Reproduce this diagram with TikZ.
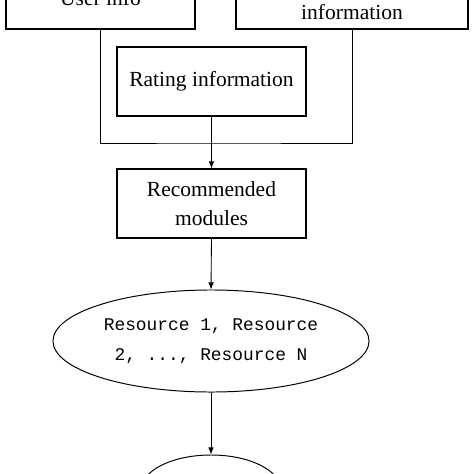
\documentclass[tikz,border=0pt]{standalone}
\usepackage{fontspec}
\setmainfont{Liberation Serif}
\setmonofont{Liberation Mono}
\usetikzlibrary{arrows.meta,shapes.geometric}

\tikzset{
	boxnode/.style={draw, line width=0.8pt, inner sep=0pt, align=center,
		font=\fontsize{15.3}{20.6}\selectfont},
	ellnode/.style={draw, ellipse, line width=0.7pt, inner sep=0pt, align=center,
		font=\fontsize{12.7}{21.3}\selectfont\ttfamily},
	arr/.style={line width=0.6pt, -{Latex[length=5pt,width=4pt]}}
}

\begin{document}
\begin{tikzpicture}[x=0.025cm, y=-0.025cm]
			\useasboundingbox (0,0) rectangle (474,474);
			\clip (0,0) rectangle (474,474);
			%%%%%%%%%%%%%%%%%%%%%%%%%%%%%%%%
			\node[boxnode, minimum width=4.725cm, minimum height=1.55cm] (user) at (100.5,-2) {User info};
			\node[boxnode, minimum width=5.8cm, minimum height=1.55cm] (course) at (352,-2) {Course property\\information};
			\node[boxnode, minimum width=4.725cm, minimum height=1.725cm] (rating) at (211.5,81.5) {Rating information};
			\node[boxnode, minimum width=4.725cm, minimum height=1.725cm] (modules) at (211.5,203.5) {Recommended\\modules};
			%%%%%%%%%%%%%%%%%%%%%%%%%%%%%
			\node[ellnode, minimum width=7.9cm, minimum height=2.55cm] (resources) at (211,341) {Resource 1, Resource\\2, ..., Resource N};
			\node[ellnode, minimum width=3.5cm, minimum height=1.75cm] (result) at (211,490) {};
			%%%%%%%%%%%%%%%%%%%%%%%%%%%%%
			\coordinate (join) at (211.5,143);
			\draw[line width=0.6pt] (user.south) |- (join) -| (course.south);
			\draw[line width=0.6pt] (rating.south) -- (join);
			\draw[arr] (join) -- (modules.north);
			\draw[arr] (modules.south) -- (resources.north);
			\draw[arr] (resources.south) -- (result.north);
		\end{tikzpicture}
\end{document}
